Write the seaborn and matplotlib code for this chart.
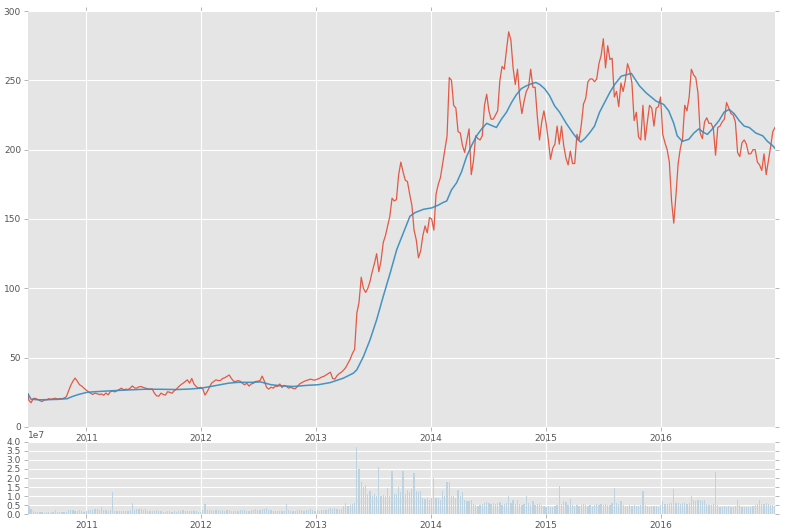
import pandas as pd
import numpy as np
import matplotlib
matplotlib.use('Agg')
import matplotlib.pyplot as plt
import matplotlib.dates as mdates
import seaborn as sns

# weekly closing price (Friday)
price_2010 = [23.9, 19.2, 17.5, 20.6, 20.6, 19.9, 19.0, 18.3, 19.5, 19.5, 20.4, 20.0, 20.4, 20.7,
              20.2, 20.5, 20.4, 20.9, 21.8, 26.0, 30.0, 33.0, 35.3, 33.0, 30.5, 29.5, 28.0, 26.6]
price_2011 = [25.5, 24.3, 23.5, 24.4, 24.0, 23.4, 23.8, 22.9, 24.5, 23.2, 25.4, 26.0, 25.3,
              26.1, 27.0, 28.0, 26.8, 27.3, 27.0, 28.0, 29.6, 28.2, 28.0, 29.0, 29.2, 28.5,
              28.0, 27.5, 27.3, 27.5, 24.4, 22.5, 22.2, 24.4, 23.5, 23.0, 25.4, 25.0, 24.3,
              26.1, 27.3, 29.0, 30.4, 31.5, 32.8, 34.0, 31.6, 35.0, 31.0, 29.2, 28.0, 28.6]
price_2012 = [27.5, 23.0, 25.5, 28.5, 31.6, 32.8, 34.0, 33.5, 33.5, 35.0, 35.5, 36.5, 37.5,
              35.0, 33.0, 32.8, 33.5, 33.0, 31.5, 30.4, 31.6, 29.5, 31.0, 31.5, 32.8, 33.0,
              33.5, 36.7, 33.0, 28.5, 27.3, 28.7, 28.0, 29.5, 29.2, 31.0, 28.5, 30.0, 29.3,
              28.0, 28.7, 27.8, 27.5, 29.2, 31.0, 32.0, 32.8, 33.5, 34.0, 34.5, 34.0, 33.8]
price_2013 = [34.5, 35.0, 36.0, 36.5, 37.5, 38.5, 39.5, 35.0, 34.5, 37.0, 38.5, 39.5, 41.0,
              43, 46, 49, 53, 56, 82, 90, 108, 100, 97, 100, 105, 112,
              118, 125, 112, 120, 133, 138, 145, 152, 165, 163, 164, 182, 191,
              184, 178, 177, 168, 160, 142, 135, 122, 127, 138, 145, 140, 151]
price_2014 = [150, 142, 168, 175, 180, 190, 200, 210, 252, 250, 232, 230, 213,
              212, 203, 198, 207, 215, 182, 192, 210, 208, 207, 210, 232, 240,
              228, 222, 222, 225, 228, 250, 260, 258, 272, 285, 279, 259, 247,
              258, 237, 226, 235, 242, 245, 258, 245, 245, 224, 207, 220, 228]
price_2015 = [219, 207, 193, 201, 204, 217, 204, 217, 203, 194, 189, 199, 190,
              190, 211, 207, 218, 233, 237, 249, 251, 251, 249, 251, 262, 268,
              280, 259, 275, 265, 266, 238, 242, 231, 248, 242, 250, 262, 257,
              248, 221, 227, 209, 207, 232, 207, 220, 232, 230, 217, 230, 231]
price_2016 = [238, 211, 205, 200, 191, 163, 147, 167, 190, 201, 208, 232, 228,
              238, 258, 254, 252, 241, 212, 208, 220, 223, 219, 219, 215, 196,
              216, 217, 220, 222, 234, 230, 226, 225, 220, 198, 195, 205, 207,
              204, 197, 197, 200, 200, 191, 189, 185, 197, 182, 192, 202, 213, 216]

# weekly volume, millions of shares
vol_2010 = [5.0, 4.2, 2.8, 1.4, 1.1, 1.0, 1.0, 0.9, 0.8, 0.9, 1.0, 0.8, 1.0, 2.0,
            1.0, 0.9, 1.0, 0.9, 1.2, 2.2, 2.0, 2.3, 1.8, 1.9, 2.0, 1.6, 1.3, 1.5]
vol_2011 = [2.5, 2.2, 2.0, 2.6, 2.8, 2.4, 4.0, 2.5, 2.2, 1.8, 2.0, 12.0, 1.6,
            1.5, 1.4, 1.6, 1.5, 1.8, 1.5, 2.0, 6.3, 2.5, 3.0, 2.8, 2.6, 2.0,
            2.6, 1.5, 1.5, 1.4, 1.8, 2.0, 1.6, 1.4, 1.2, 1.3, 1.5, 1.4, 1.3,
            1.4, 1.3, 1.5, 1.6, 2.0, 1.8, 1.5, 1.4, 1.6, 1.5, 1.4, 1.2, 1.3]
vol_2012 = [2.0, 5.5, 2.5, 2.0, 2.2, 1.8, 2.0, 2.2, 1.8, 2.0, 1.8, 2.0, 2.2,
            1.8, 1.6, 1.5, 1.8, 2.0, 2.2, 2.0, 1.9, 1.8, 2.0, 2.4, 3.0, 2.2,
            2.0, 3.0, 2.8, 3.2, 2.5, 2.0, 1.8, 1.5, 1.6, 1.8, 1.5, 1.8, 5.5,
            2.0, 1.8, 1.6, 1.8, 2.0, 2.2, 2.0, 1.8, 2.0, 2.2, 2.6, 2.0, 1.8]
vol_2013 = [2.0, 1.8, 2.0, 2.0, 2.5, 3.0, 3.5, 3.0, 3.5, 3.0, 2.5, 3.0, 4.5,
            6.0, 4.5, 5.0, 5.5, 6.0, 37.0, 25.0, 18.0, 15.0, 16.0, 11.0, 13.0, 10.0,
            11, 10, 26, 10, 10.5, 10, 14.5, 10, 24, 11, 11, 15, 12,
            24, 11, 13.5, 12, 14, 22.5, 13, 12.5, 13, 9, 8.5, 9, 8]
vol_2014 = [9, 20, 9, 9, 8, 13, 10, 18, 18, 10, 10, 9, 13.5,
            10, 12, 8, 7, 7.5, 8, 5.5, 5, 4.5, 5, 5.5, 6, 6.5,
            6, 5.5, 6, 5.5, 6, 6.5, 5, 5.5, 6, 10, 6, 8, 5.5,
            8, 5.5, 5, 5.5, 10, 6, 5, 7.5, 5, 5.5, 6, 5, 4.5]
vol_2015 = [4, 4.5, 4, 4, 4.5, 5, 15.8, 5.5, 7, 6.5, 5, 8.5, 5,
            4.5, 5, 4.5, 5, 5.5, 5, 4.5, 5, 4.5, 5, 5.5, 5, 5.5,
            5, 5.5, 5, 5, 6, 14.5, 6, 5.5, 7.5, 5, 4.5, 4.5, 5,
            4.5, 5, 4.5, 4.5, 5, 12.7, 5, 4.5, 4, 4.5, 4.5, 4.5, 4]
vol_2016 = [5, 7, 5.5, 5.5, 6, 6, 14, 6, 6, 5.5, 6, 6, 5.5,
            6, 10, 8, 7.5, 8, 8, 7.5, 8, 5.5, 5, 5, 5.5, 23.6,
            5, 4, 4, 4.5, 4, 4.5, 4, 4, 4.5, 8, 5, 4, 4,
            4, 4, 4, 4.5, 5, 5.5, 8, 5.5, 5.5, 6, 5.5, 5, 5, 4.5]

# 100 day moving average
ma_dates = ['2010-06-29', '2010-07-09', '2010-08-01', '2010-09-01', '2010-10-01', '2010-11-01',
            '2010-11-15', '2010-12-06', '2011-01-01', '2011-01-25', '2011-03-20', '2011-05-12',
            '2011-07-05', '2011-08-25', '2011-10-12', '2011-11-20', '2012-01-01', '2012-02-12',
            '2012-03-28', '2012-04-27', '2012-06-08', '2012-07-08', '2012-08-10', '2012-09-07',
            '2012-10-20', '2012-12-01', '2013-01-08', '2013-02-14', '2013-03-28', '2013-04-29',
            '2013-05-10', '2013-05-31', '2013-06-21', '2013-07-12', '2013-08-02', '2013-08-24',
            '2013-09-14', '2013-10-05', '2013-10-26', '2013-11-11', '2013-12-08', '2014-01-03',
            '2014-01-24', '2014-02-09', '2014-02-20', '2014-03-07', '2014-03-23', '2014-04-08',
            '2014-04-24', '2014-05-10', '2014-05-26', '2014-06-11', '2014-06-27', '2014-07-12',
            '2014-07-28', '2014-08-13', '2014-08-29', '2014-09-14', '2014-09-29', '2014-10-15',
            '2014-10-31', '2014-11-16', '2014-11-30', '2014-12-13', '2014-12-28', '2015-01-13',
            '2015-01-29', '2015-02-14', '2015-03-07', '2015-03-28', '2015-04-14', '2015-04-22',
            '2015-05-05', '2015-05-20', '2015-06-05', '2015-06-21', '2015-07-07', '2015-07-23',
            '2015-08-08', '2015-08-29', '2015-09-30', '2015-10-26', '2015-11-16', '2015-12-02',
            '2015-12-18', '2016-01-11', '2016-01-27', '2016-02-12', '2016-02-23', '2016-03-10',
            '2016-03-31', '2016-04-16', '2016-05-02', '2016-05-13', '2016-05-29', '2016-06-14',
            '2016-07-05', '2016-07-21', '2016-08-06', '2016-08-22', '2016-09-07', '2016-09-23',
            '2016-10-09', '2016-10-30', '2016-11-21', '2016-12-06', '2016-12-22', '2016-12-30']
ma_values = [23.9, 20.0, 19.6, 19.7, 19.9, 20.4,
             21.8, 23.4, 24.9, 25.4, 26.1, 26.7,
             27.2, 27.2, 27.0, 27.3, 28.0, 29.7,
             31.6, 32.2, 32.2, 32.5, 30.5, 29.8,
             29.2, 30.0, 30.5, 32.0, 35.2, 38.8,
             41.3, 50.8, 62.9, 77.3, 94.2, 111,
             128, 140, 152, 154.6, 157, 158,
             160, 162, 163, 171, 176, 184,
             195, 203, 210, 215, 219, 217.5,
             216, 222, 227, 234, 239.5, 244,
             246, 247.5, 248.5, 247, 244, 239,
             231.6, 227, 219, 212, 207, 205.5,
             208, 212, 217, 227, 234, 241,
             247, 253, 255, 246, 241, 238,
             235, 232.6, 228, 219, 210, 206,
             207.5, 212, 215, 213, 211, 215,
             221, 227, 229, 226, 221, 217,
             216, 212, 210, 206, 203, 201]

years = [2010, 2011, 2012, 2013, 2014, 2015, 2016]
prices = [price_2010, price_2011, price_2012, price_2013, price_2014, price_2015, price_2016]
vols = [vol_2010, vol_2011, vol_2012, vol_2013, vol_2014, vol_2015, vol_2016]

frames = []
for year, p, v in zip(years, prices, vols):
    if year == 2010:
        d = pd.DatetimeIndex(['2010-06-29']).append(pd.date_range('2010-07-02', '2010-12-31', freq='W-FRI'))
    else:
        d = pd.date_range(f'{year}-01-01', f'{year}-12-31', freq='W-FRI')
    frames.append(pd.DataFrame({'Date': d, 'Close': p, 'Volume': np.array(v) * 1e6}))
df = pd.concat(frames, ignore_index=True)
ma = pd.DataFrame({'Date': pd.to_datetime(ma_dates), 'MA100': ma_values})

plt.style.use('ggplot')
plt.rcParams['font.family'] = ['DejaVu Sans']

fig = plt.figure(figsize=(7.9, 5.32), dpi=100)
ax1 = fig.add_axes([0.0354, 0.1974, 0.9456, 0.7819])
ax2 = fig.add_axes([0.0354, 0.0338, 0.9456, 0.1354], sharex=ax1)

sns.lineplot(data=df, x='Date', y='Close', ax=ax1, color='#E24A33', linewidth=0.9, alpha=0.9)
sns.lineplot(data=ma, x='Date', y='MA100', ax=ax1, color='#348ABD', linewidth=1.1, alpha=0.9)
ax2.bar(df['Date'], df['Volume'], width=4, color='#bed3e2', linewidth=0)

ax1.set_ylim(0, 300)
ax1.set_yticks(range(0, 301, 50))
ax2.set_ylim(0, 4e7)
ax2.set_yticks(np.arange(0, 4.01e7, 0.5e7))
ax1.set_xlim(pd.Timestamp('2010-06-29'), pd.Timestamp('2016-12-30'))

for ax in (ax1, ax2):
    ax.set_xlabel('')
    ax.set_ylabel('')
    ax.xaxis.set_major_locator(mdates.YearLocator())
    ax.xaxis.set_major_formatter(mdates.DateFormatter('%Y'))
    ax.tick_params(direction='out', length=3, width=0.6, color='#aaaaaa',
                   labelcolor='#555555', labelsize=6.5, top=True, right=True, pad=2)
    ax.grid(True, color='white', linewidth=0.8)
    ax.set_axisbelow(True)
    for s in ax.spines.values():
        s.set_visible(False)
ax2.xaxis.set_tick_params(labelbottom=True)
ax1.xaxis.set_tick_params(labelbottom=True)
ax2.yaxis.get_offset_text().set_fontsize(6.5)
ax2.yaxis.get_offset_text().set_color('#555555')

plt.savefig('out.png', dpi=100)
